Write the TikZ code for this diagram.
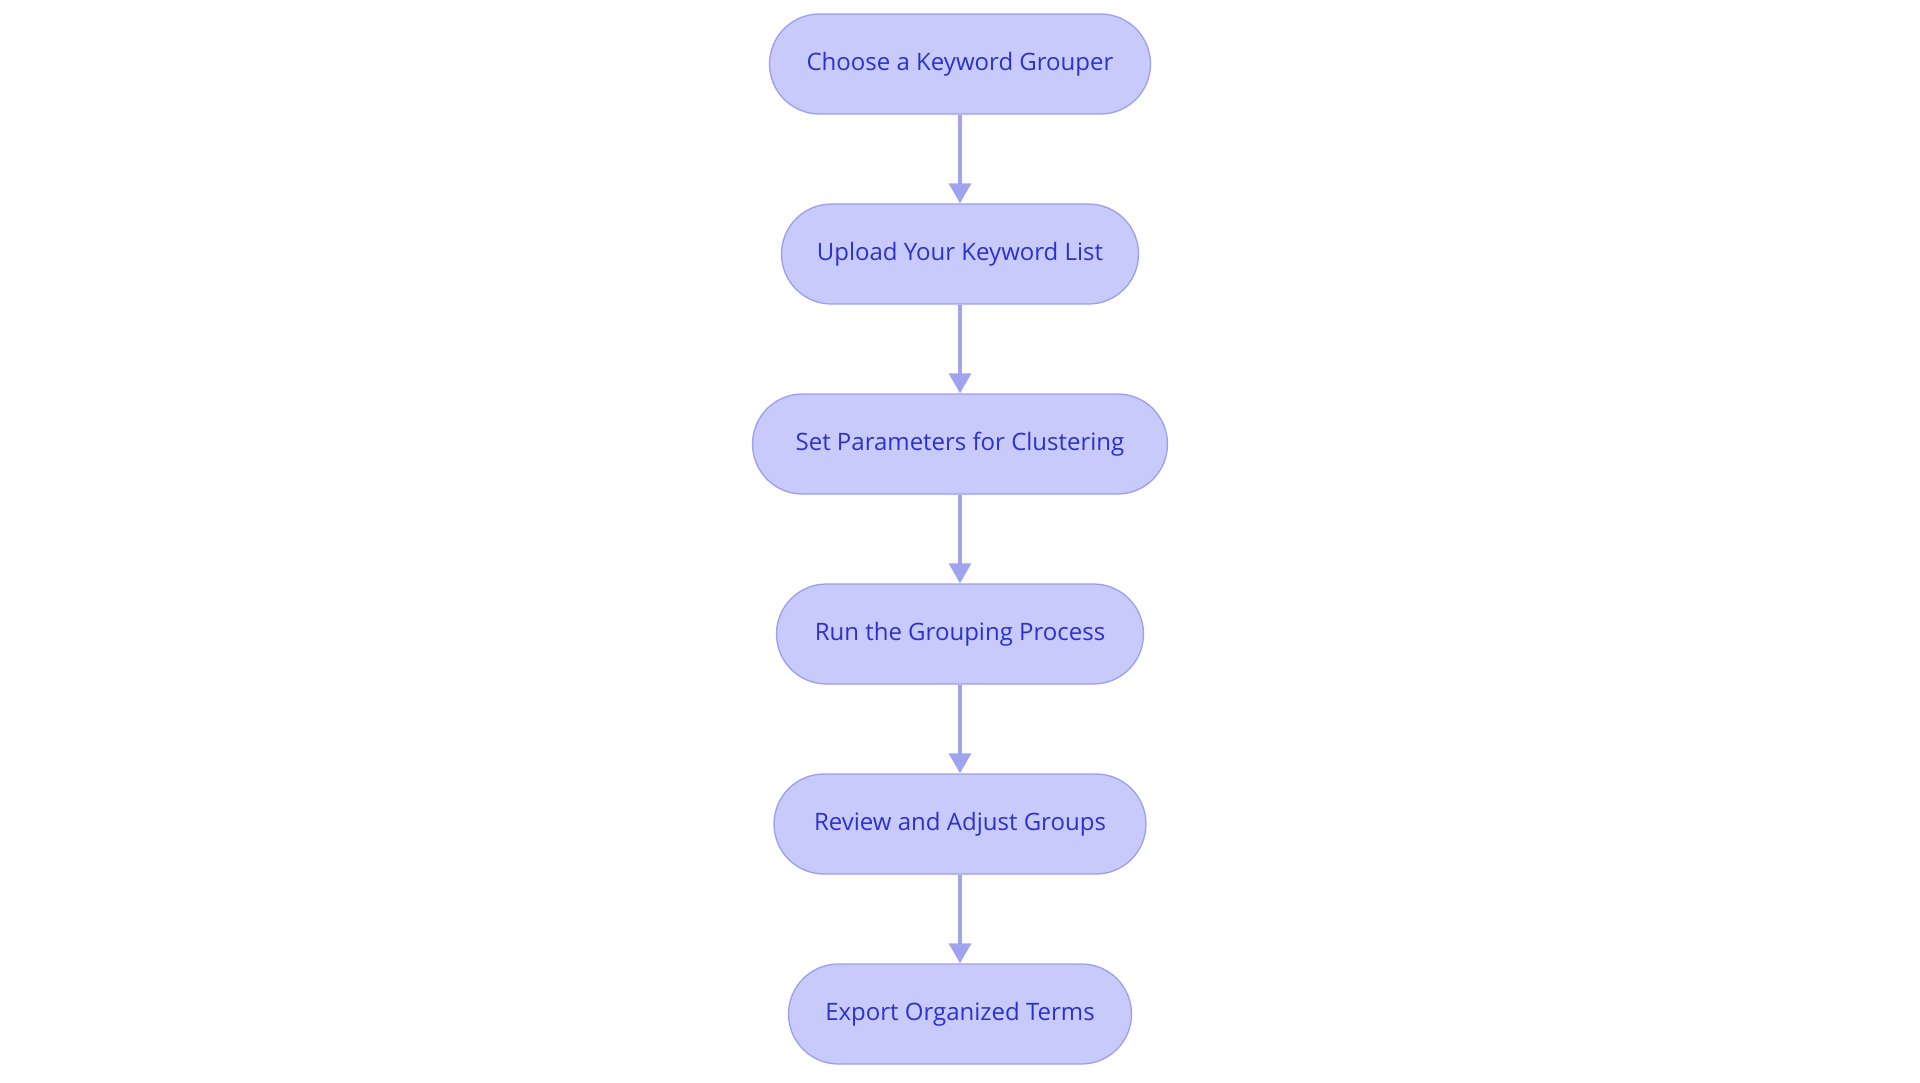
\documentclass[tikz,border=0pt]{standalone}
\usepackage{fontspec}
\setmainfont{Open Sans}
\usetikzlibrary{arrows.meta}
\definecolor{boxfill}{HTML}{C8CAFC}
\definecolor{boxline}{HTML}{9A9EEE}
\definecolor{arrowcol}{HTML}{A0A3F0}
\definecolor{txt}{HTML}{2D31CC}
\tikzset{
  stepbox/.style={draw=boxline, line width=1.3pt, fill=boxfill, rounded corners=50pt,
    minimum height=100pt, inner sep=0pt, text=txt, font=\fontsize{24}{29}\selectfont},
  flow/.style={draw=arrowcol, line width=3.2pt, -{Triangle[length=20pt,width=22pt]}}
}
\begin{document}
\begin{tikzpicture}[x=1pt,y=-1pt]
\useasboundingbox (0,0) rectangle (1920,1083);
\node[stepbox, minimum width=381pt] (n1) at (960,64) {Choose a Keyword Grouper};
\node[stepbox, minimum width=357pt] (n2) at (960,254) {Upload Your Keyword List};
\node[stepbox, minimum width=415pt] (n3) at (960,444) {Set Parameters for Clustering};
\node[stepbox, minimum width=367pt] (n4) at (960,634) {Run the Grouping Process};
\node[stepbox, minimum width=372pt] (n5) at (960,824) {Review and Adjust Groups};
\node[stepbox, minimum width=343pt] (n6) at (960,1014) {Export Organized Terms};
\draw[flow] (n1) -- (n2);
\draw[flow] (n2) -- (n3);
\draw[flow] (n3) -- (n4);
\draw[flow] (n4) -- (n5);
\draw[flow] (n5) -- (n6);
\end{tikzpicture}
\end{document}
